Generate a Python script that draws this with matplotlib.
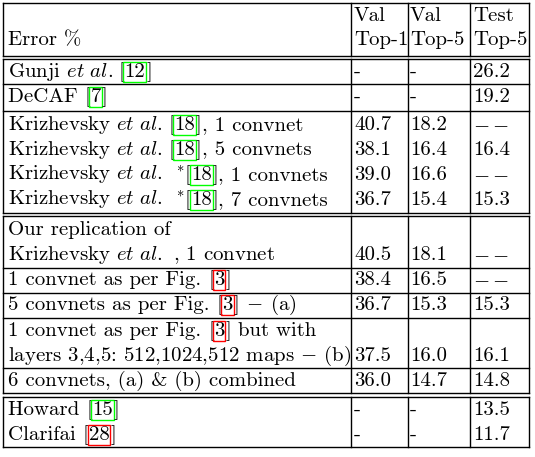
import matplotlib
matplotlib.use('Agg')
import matplotlib.pyplot as plt

plt.rcParams['font.family'] = 'cmr10'
plt.rcParams['mathtext.fontset'] = 'cm'
plt.rcParams['axes.unicode_minus'] = False

ET = r'$\mathit{et\ al.}$'
# each label is a list of (text, box colour or None); multi-line labels are lists of lines
labels = [
    [[('Gunji ' + ET + ' ', None), ('12', 'g')]],
    [[('DeCAF ', None), ('7', 'g')]],
    [[('Krizhevsky ' + ET + ' ', None), ('18', 'g'), (', 1 convnet', None)]],
    [[('Krizhevsky ' + ET + ' ', None), ('18', 'g'), (', 5 convnets', None)]],
    [[('Krizhevsky ' + ET + r' $^*$', None), ('18', 'g'), (', 1 convnets', None)]],
    [[('Krizhevsky ' + ET + r' $^*$', None), ('18', 'g'), (', 7 convnets', None)]],
    [[('Our replication of', None)], [('Krizhevsky ' + ET + ' , 1 convnet', None)]],
    [[('1 convnet as per Fig. ', None), ('3', 'r')]],
    [[('5 convnets as per Fig. ', None), ('3', 'r'), (r' $-$ (a)', None)]],
    [[('1 convnet as per Fig. ', None), ('3', 'r'), (' but with', None)],
     [(r'layers 3,4,5: 512,1024,512 maps $-$ (b)', None)]],
    [[('6 convnets, (a) & (b) combined', None)]],
    [[('Howard ', None), ('15', 'g')]],
    [[('Clarifai ', None), ('28', 'r')]],
]
val_top1 = ['-', '-', '40.7', '38.1', '39.0', '36.7', '40.5', '38.4', '36.7', '37.5', '36.0', '-', '-']
val_top5 = ['-', '-', '18.2', '16.4', '16.6', '15.4', '18.1', '16.5', '15.3', '16.0', '14.7', '-', '-']
test_top5 = ['26.2', '19.2', r'$--$', '16.4', r'$--$', '15.3', r'$--$', r'$--$', '15.3', '16.1', '14.8', '13.5', '11.7']

# layout in pixels
row_y = [[72], [97], [125], [150], [175], [200], [230, 255], [280], [305], [331, 356], [381], [410], [435]]
col_x = [8, 354, 410, 473]
vlines = [3, 351, 408, 470, 529]
boxes = [(3, 56), (59, 213), (216, 393), (397, 447)]
FS = 15
colors = {'g': '#00ff00', 'r': '#ff0000'}

fig = plt.figure(figsize=(5.35, 4.57), dpi=100)
ax = fig.add_axes([0, 0, 1, 1])
ax.set_xlim(0, 535)
ax.set_ylim(457, 0)
ax.axis('off')

for top, bot in boxes:
    ax.plot([3, 529], [top, top], color='black', lw=1)
    ax.plot([3, 529], [bot, bot], color='black', lw=1)
    for x in vlines:
        ax.plot([x, x], [top, bot], color='black', lw=1)
for y in [84, 111, 268, 293, 318, 368]:
    ax.plot([3, 529], [y, y], color='black', lw=1)

fig.canvas.draw()
renderer = fig.canvas.get_renderer()
inv = ax.transData.inverted()


def draw_segments(x, y, segs):
    for txt, box in segs:
        if box:
            t0 = ax.text(x, y, '[', fontsize=FS, va='center')
            x = inv.transform(t0.get_window_extent(renderer))[1][0]
            t = ax.text(x, y, txt, fontsize=FS, va='center',
                        bbox=dict(boxstyle='square,pad=0.05', fc='none', ec=colors[box], lw=1))
            x = inv.transform(t.get_window_extent(renderer))[1][0] + 1
            t2 = ax.text(x, y, ']', fontsize=FS, va='center')
            x = inv.transform(t2.get_window_extent(renderer))[1][0]
        else:
            t = ax.text(x, y, txt, fontsize=FS, va='center')
            x = inv.transform(t.get_window_extent(renderer))[1][0]


# header
ax.text(col_x[0], 40, 'Error %', fontsize=FS, va='center')
for x, (a, b) in zip(col_x[1:], [('Val', 'Top-1'), ('Val', 'Top-5'), ('Test', 'Top-5')]):
    ax.text(x, 16, a, fontsize=FS, va='center')
    ax.text(x, 40, b, fontsize=FS, va='center')

for lab, ys, v1, v5, t5 in zip(labels, row_y, val_top1, val_top5, test_top5):
    for line, y in zip(lab, ys):
        draw_segments(col_x[0], y, line)
    y = ys[-1]
    ax.text(col_x[1], y, v1, fontsize=FS, va='center')
    ax.text(col_x[2], y, v5, fontsize=FS, va='center')
    ax.text(col_x[3], y, t5, fontsize=FS, va='center')

fig.savefig('out.png', dpi=100)
